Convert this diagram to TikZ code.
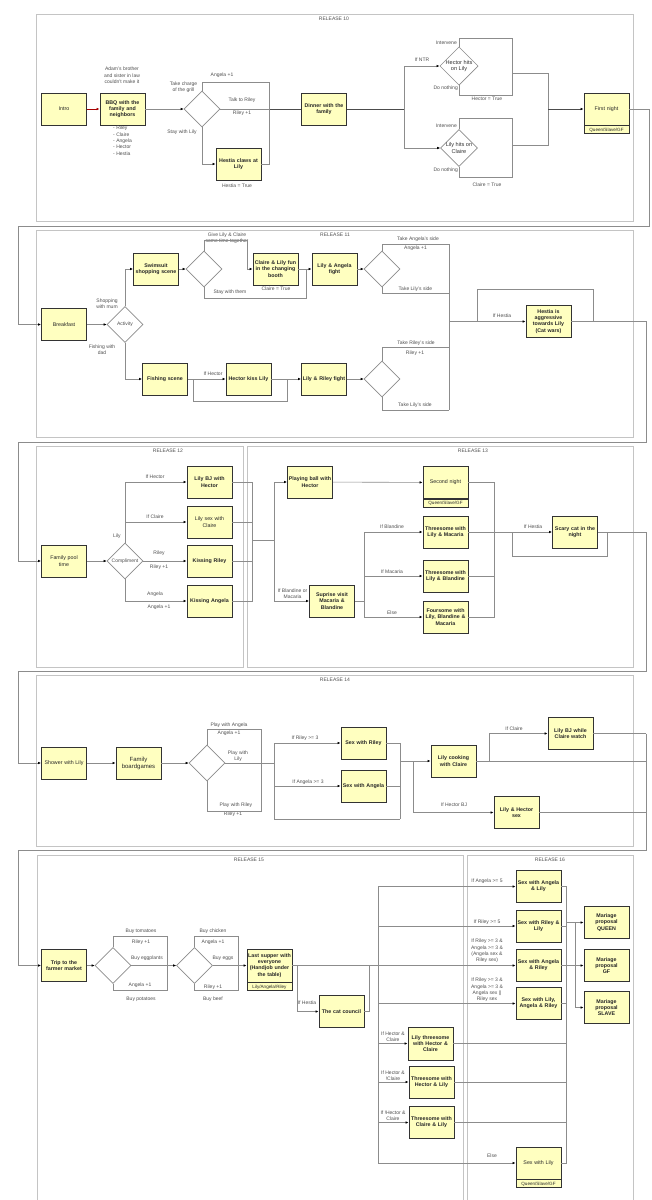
\documentclass[tikz,border=0pt]{standalone}
\usepackage{fontspec}
\setmainfont{Liberation Sans}
\usetikzlibrary{shapes.geometric,arrows.meta}
\definecolor{boxfill}{HTML}{FFFFC0}
\definecolor{lin}{HTML}{8C8C8C}
\definecolor{frm}{HTML}{C4C4C4}
\definecolor{lbl}{HTML}{505050}
\newcommand\bxf{\fontsize{5.3}{6.2}\selectfont}
\newcommand\lbf{\fontsize{5}{6.3}\selectfont}
\begin{document}
\begin{tikzpicture}[x=1pt,y=-1pt,
 box/.style={draw=black!80, line width=0.85pt, fill=boxfill, minimum width=45pt, minimum height=32pt, text width=44pt, align=center, inner sep=0.5pt, font=\bxf\bfseries, text=black!85},
 nbox/.style={box, font=\bxf},
 comp/.style={draw=black!80, line width=0.85pt, fill=boxfill, minimum width=45pt, minimum height=8pt, inner sep=0pt, anchor=north, font=\fontsize{4.6}{5}\selectfont, text=black!85},
 dia/.style={diamond, draw=lin, line width=0.6pt, minimum width=36pt, minimum height=36pt, inner sep=0pt, align=center, font=\lbf, text=lbl},
 bigdia/.style={dia, font=\fontsize{5.6}{6.4}\selectfont, text=black!80},
 ln/.style={draw=lin, line width=0.6pt},
 thk/.style={draw=black!70, line width=0.8pt},
 ar/.style={ln, -{Latex[length=3pt,width=2.6pt,color=black]}},
 thkar/.style={thk, -{Latex[length=3pt,width=2.6pt,color=black]}},
 redar/.style={draw=red!65!black, line width=0.8pt, -{Latex[length=3pt,width=2.6pt,color=red!65!black]}},
 lab/.style={text=lbl, font=\lbf, inner sep=0pt, align=center},
 frame/.style={draw=frm, line width=0.7pt},
 rel/.style={text=lbl, font=\lbf, inner sep=0pt}
]
\fill[white] (0,0) rectangle (651,1200);
\useasboundingbox (0,0) rectangle (651,1200);

% ================= RELEASE 10 =================
\draw[frame] (36,14) rectangle (633,221);
\node[rel] (r10) at (334,19) {RELEASE 10};
\node[nbox] (intro) at (64,109) {Intro};
\node[box] (bbq) at (122.5,109) {BBQ with the\\family and\\neighbors};
\node[lab] (bbqnote) at (122,75.5) {Adam's brother\\and sister in law\\couldn't make it};
\node[lab, align=left, anchor=north west] (bbqlist) at (113,126) {- Riley\\- Claire\\- Angela\\- Hector\\- Hestia};
\node[dia] (d1) at (202,109) {};
\node[box] (hc) at (238.5,164) {Hestia claws at\\Lily};
\node[box] (dinner) at (324,109) {Dinner with the\\family};
\node[bigdia] (dh) at (459,66) {Hector hits\\on Lily};
\node[bigdia] (dl) at (459,148) {Lily hits on\\Claire};
\node[nbox] (fn) at (606.5,109) {First night};
\node[comp] (fnq) at (fn.south) {Queen/Slave/GF};

\node[lab] (l101) at (183.5,87) {Take charge\\of the grill};
\node[lab] (l102) at (222,75) {Angela +1};
\node[lab] (l103) at (242,100) {Talk to Riley};
\node[lab] (l104) at (242,113) {Riley +1};
\node[lab] (l105) at (182,132) {Stay with Lily};
\node[lab] (l106) at (237,186) {Hestia = True};
\node[lab] (l107) at (422,60) {If NTR};
\node[lab, anchor=east] (l108) at (457,43) {Intervene};
\node[lab, anchor=east] (l109) at (458,88) {Do nothing};
\node[lab] (l110) at (487,99) {Hector = True};
\node[lab, anchor=east] (l111) at (457,126) {Intervene};
\node[lab, anchor=east] (l112) at (458,170) {Do nothing};
\node[lab] (l113) at (487,185) {Claire = True};

\draw[redar] (intro) -- (bbq);
\draw[ar] (bbq) -- (d1);
\coordinate (j1) at (269,109); \coordinate (j1t) at (269,82);
\draw[ln] (d1.north) |- (j1t) -- (j1);
\draw[ln] (d1.east) -- (j1);
\draw[thk] (j1) -- (dinner.west);
\draw[ar] (d1.south) |- (hc.west);
\draw[ln] (hc.east) -| (j1);
\coordinate (s1) at (404,109);
\draw[thk] (dinner) -- (s1);
\draw[ar] (s1) |- (dh.west);
\draw[ar] (s1) |- (dl.west);
\coordinate (dhA) at (512,38); \coordinate (dhB) at (512,95);
\draw[ln] (dh.north) |- (dhA) -- (dhB) -| (dh.south);
\coordinate (dlA) at (512,118); \coordinate (dlB) at (512,177);
\draw[ln] (dl.north) |- (dlA) -- (dlB) -| (dl.south);
\coordinate (m1) at (512,73); \coordinate (m2) at (548,73);
\coordinate (m3) at (548,145); \coordinate (m4) at (512,145);
\coordinate (m5) at (548,109);
\draw[ln] (m1) -- (m2) -- (m3) -- (m4);
\draw[thkar] (m5) -- (fn.west);

% ================= RELEASE 11 =================
\draw[frame] (36,230) rectangle (633,437);
\node[rel] (r11) at (335,235) {RELEASE 11};
\node[nbox] (bf) at (64,324.5) {Breakfast};
\node[dia] (act) at (125,324.5) {Activity};
\node[box] (swim) at (156,269) {Swimsuit\\shopping scene};
\node[box] (fish) at (165,379) {Fishing scene};
\node[dia] (d2) at (204,269) {};
\node[box] (cl) at (275.5,269) {Claire \& Lily fun\\in the changing\\booth};
\node[box] (la) at (334.5,269) {Lily \& Angela\\fight};
\node[dia] (d3) at (382,269) {};
\node[box] (hk) at (248.5,379) {Hector kiss Lily};
\node[box] (lr) at (324,379) {Lily \& Riley fight};
\node[dia] (d4) at (382,379) {};
\node[box] (hest) at (548.5,321.5) {Hestia is\\aggressive\\towards Lily\\(Cat wars)};

\node[lab] (l201) at (107,304) {Shopping\\with mum};
\node[lab] (l202) at (102,350) {Fishing with\\dad};
\node[lab] (l203) at (227,238) {Give Lily \& Claire\\some time together};
\node[lab] (l204) at (230,292.5) {Stay with them};
\node[lab] (l205) at (276,289) {Claire = True};
\node[lab] (l206) at (418,239) {Take Angela's side};
\node[lab] (l207) at (415.5,248.5) {Angela +1};
\node[lab] (l208) at (415.5,289) {Take Lily's side};
\node[lab] (l209) at (416,343.5) {Take Riley's side};
\node[lab] (l210) at (415,353) {Riley +1};
\node[lab] (l211) at (415,405.5) {Take Lily's side};
\node[lab] (l212) at (213,374) {If Hector};
\node[lab] (l213) at (502,316) {If Hestia};

\coordinate (t1a) at (649,109); \coordinate (t1b) at (649,226); \coordinate (t1c) at (18,226);
\draw[ar] (fn.east) -- (t1a) -- (t1b) -- (t1c) |- (bf.west);
\draw[ar] (bf) -- (act);
\draw[ar] (act.north) |- (swim.west);
\draw[ar] (act.south) |- (fish.west);
\draw[ar] (swim) -- (d2);
\coordinate (g1) at (247,240);
\draw[ar] (d2.north) |- (g1) |- (cl.west);
\coordinate (s2a) at (306,298); \coordinate (s2b) at (306,269);
\draw[ln] (d2.south) |- (s2a) -- (s2b);
\draw[ar] (cl) -- (la);
\draw[ar] (la) -- (d3);
\coordinate (a1) at (449,244); \coordinate (a2) at (449,293);
\coordinate (a3) at (449,347); \coordinate (a4) at (449,410);
\coordinate (hub) at (449,321.5);
\draw[ln] (d3.north) |- (a1) -- (a4);
\draw[ln] (d3.south) |- (a2);
\draw[ln] (d4.north) |- (a3);
\draw[ln] (d4.south) |- (a4);
\draw[ar] (fish) -- (hk);
\coordinate (f0) at (193,379); \coordinate (f2) at (287,401); \coordinate (f3) at (287,379);
\draw[ln] (f0) |- (f2) -- (f3);
\draw[ar] (hk) -- (lr);
\draw[ar] (lr) -- (d4);
\draw[ar] (hub) -- (hest.west);
\coordinate (h0) at (477,321.5); \coordinate (h1) at (477,289);
\coordinate (h2) at (593,289); \coordinate (h3) at (593,321.5);
\draw[ln] (h0) -- (h1) -- (h2) -- (h3);

% ================= RELEASE 12 / 13 =================
\draw[frame] (36,446) rectangle (243,667);
\draw[frame] (247,446) rectangle (633,667);
\node[rel] (r12) at (168,451) {RELEASE 12};
\node[rel] (r13) at (473,451) {RELEASE 13};
\node[nbox] (pool) at (64,561) {Family pool\\time};
\node[dia] (cmp) at (125,561) {Compliment};
\node[box] (lbj) at (209.5,482) {Lily BJ with\\Hector};
\node[nbox] (lsc) at (209.5,522) {Lily sex with\\Claire};
\node[box] (kr) at (209.5,561) {Kissing Riley};
\node[box] (ka) at (209.5,601) {Kissing Angela};
\node[box] (pb) at (310,482) {Playing ball with\\Hector};
\node[box] (sv) at (332,601) {Suprise visit\\Macaria \&\\Blandine};
\node[nbox] (sn) at (445.5,482.5) {Second night};
\node[comp] (snq) at (sn.south) {Queen/Slave/GF};
\node[box] (tm) at (445.5,532) {Threesome with\\Lily \& Macaria};
\node[box] (tb) at (445.5,576) {Threesome with\\Lily \& Blandine};
\node[box] (fs) at (445.5,617) {Foursome with\\Lily, Blandine \&\\Macaria};
\node[box] (sc) at (575,532) {Scary cat in the\\night};

\node[lab] (l301) at (155,477) {If Hector};
\node[lab] (l302) at (155,517) {If Claire};
\node[lab] (l303) at (117,536) {Lily};
\node[lab] (l304) at (159,553) {Riley};
\node[lab] (l305) at (159,567) {Riley +1};
\node[lab] (l306) at (155,594) {Angela};
\node[lab] (l307) at (159,607) {Angela +1};
\node[lab] (l308) at (292.5,594) {If Blandine or\\Macaria};
\node[lab] (l309) at (392,527) {If Blandine};
\node[lab] (l310) at (392,572) {If Macaria};
\node[lab] (l311) at (392,613) {Else};
\node[lab] (l312) at (533,527) {If Hestia};

\coordinate (t2a) at (646,321.5); \coordinate (t2b) at (646,442); \coordinate (t2c) at (18,442);
\draw[ar] (hest.east) -- (t2a) -- (t2b) -- (t2c) |- (pool.west);
\draw[ar] (pool) -- (cmp);
\draw[ar] (cmp.north) |- (lbj.west);
\coordinate (c1) at (125,522);
\draw[ar] (c1) -- (lsc.west);
\draw[ar] (cmp) -- (kr);
\draw[ar] (cmp.south) |- (ka.west);
\coordinate (r1) at (252,482); \coordinate (r2) at (252,522);
\coordinate (r3) at (252,561); \coordinate (r4) at (252,601);
\coordinate (r5) at (252,540); \coordinate (r6) at (274,540);
\draw[ln] (lbj) -- (r1) -- (r4) -- (ka);
\draw[ln] (lsc) -- (r2);
\draw[ln] (kr) -- (r3);
\draw[ln] (r5) -- (r6);
\draw[ar] (r6) |- (pb.west);
\draw[ar] (r6) |- (sv.west);
\draw[ar] (pb) -- (sn);
\coordinate (q0) at (364,601); \coordinate (q3) at (364,576);
\draw[ln] (sv) -- (q0);
\draw[ar] (q0) |- (tm.west);
\draw[ar] (q0) |- (fs.west);
\draw[ar] (q3) -- (tb.west);
\coordinate (w1) at (494,482.5); \coordinate (w2) at (494,532);
\coordinate (w3) at (494,576); \coordinate (w4) at (494,617);
\draw[ln] (sn.east) -- (w1) -- (w4) -- (fs.east);
\draw[ln] (tm) -- (w2);
\draw[ln] (tb) -- (w3);
\draw[ar] (w2) -- (sc.west);
\coordinate (b0) at (512,532); \coordinate (b1) at (512,556);
\coordinate (b2) at (607,556); \coordinate (b3) at (607,532);
\draw[ln] (b0) -- (b1) -- (b2) -- (b3);

% ================= RELEASE 14 =================
\draw[frame] (36,675) rectangle (633,846);
\node[rel] (r14) at (335,680) {RELEASE 14};
\node[nbox] (sh) at (64,763) {Shower with Lily};
\node[nbox, font=\fontsize{6}{7}\selectfont] (fb) at (138.5,763) {Family\\boardgames};
\node[dia] (d5) at (207,763) {};
\node[box] (sr) at (363.5,743) {Sex with Riley};
\node[box] (sa) at (363.5,786) {Sex with Angela};
\node[box] (lc) at (453.5,761) {Lily cooking\\with Claire};
\node[box] (lh) at (516.5,812.5) {Lily \& Hector\\sex};
\node[box] (lbw) at (570.5,733.5) {Lily BJ while\\Claire watch};

\node[lab] (l401) at (229,725) {Play with Angela};
\node[lab] (l402) at (229,733) {Angela +1};
\node[lab] (l403) at (238,756) {Play with\\Lily};
\node[lab] (l404) at (236,805) {Play with Riley};
\node[lab] (l405) at (233,814) {Riley +1};
\node[lab] (l406) at (305,738) {If Riley >= 3};
\node[lab] (l407) at (308,782) {If Angela >= 3};
\node[lab] (l408) at (454,805) {If Hector BJ};
\node[lab] (l409) at (514,729) {If Claire};

\coordinate (t3a) at (646,532); \coordinate (t3b) at (646,671); \coordinate (t3c) at (18,671);
\draw[ar] (sc.east) -- (t3a) -- (t3b) -- (t3c) |- (sh.west);
\draw[ar] (sh) -- (fb);
\draw[ar] (fb) -- (d5);
\coordinate (e1) at (261,729); \coordinate (e2) at (261,811);
\draw[ln] (d5.north) |- (e1) -- (e2) -| (d5.south);
\coordinate (k0) at (274,763); \coordinate (k1) at (274,743);
\coordinate (k2) at (274,819); \coordinate (k3) at (274,786);
\draw[ln] (d5.east) -- (k0);
\draw[ln] (k1) -- (k2);
\draw[ar] (k1) -- (sr.west);
\draw[ar] (k3) -- (sa.west);
\coordinate (z1) at (400,743); \coordinate (z2) at (400,786);
\coordinate (z3) at (400,819); \coordinate (z0) at (400,761);
\draw[ln] (k2) -- (z3);
\draw[ln] (sr) -- (z1) -- (z3);
\draw[ln] (sa) -- (z2);
\draw[ar] (z0) -- (lc.west);
\coordinate (y0) at (413,761);
\draw[ar] (y0) |- (lh.west);
\coordinate (x0) at (489,761);
\draw[ar] (x0) |- (lbw.west);
\coordinate (u1) at (646,733.5); \coordinate (u2) at (646,761);
\coordinate (u3) at (646,812.5); \coordinate (u4) at (646,850);
\coordinate (u5) at (18,850);
\draw[ln] (lbw) -- (u1);
\draw[ln] (lc) -- (u2);
\draw[ln] (lh) -- (u3);

% ================= RELEASE 15 / 16 =================
\draw[frame] (37,1201) -- (37,855) -- (463,855) -- (463,1201);
\draw[frame] (467,1201) -- (467,855) -- (633,855) -- (633,1201);
\node[rel] (r15) at (249,860) {RELEASE 15};
\node[rel] (r16) at (550,860) {RELEASE 16};
\node[box] (trip) at (64,965.5) {Trip to the\\farmer market};
\node[dia] (d6) at (113,965.5) {};
\node[dia] (d7) at (194.5,965.5) {};
\node[box, minimum height=33pt] (ls) at (269.5,965.5) {Last supper with\\everyone\\(Handjob under\\the table)};
\node[comp] (lsq) at (ls.south) {Lily/Angela/Riley};
\node[box] (cc) at (341.5,1011.5) {The cat council};
\node[box] (sal) at (538.5,886.5) {Sex with Angela\\\& Lily};
\node[box] (srl) at (538.5,926) {Sex with Riley \&\\Lily};
\node[box] (sar) at (538.5,965.5) {Sex with Angela\\\& Riley};
\node[box] (sla) at (538.5,1003.5) {Sex with Lily,\\Angela \& Riley};
\node[box, minimum height=33pt] (lt) at (430.5,1043.5) {Lily threesome\\with Hector \&\\Claire};
\node[box] (th) at (431.5,1082) {Threesome with\\Hector \& Lily};
\node[box] (tc) at (431.5,1122.5) {Threesome with\\Claire \& Lily};
\node[nbox] (sl) at (538.5,1163) {Sex with Lily};
\node[comp] (slq) at (sl.south) {Queen/Slave/GF};
\node[box] (mq) at (606.5,922.5) {Mariage\\proposal\\QUEEN};
\node[box] (mg) at (606.5,965.5) {Mariage\\proposal\\GF};
\node[box] (ms) at (606.5,1007.5) {Mariage\\proposal\\SLAVE};

\node[lab] (l501) at (141,931) {Buy tomatoes};
\node[lab] (l502) at (141,942) {Riley +1};
\node[lab] (l503) at (147,958) {Buy eggplants};
\node[lab] (l504) at (140,985) {Angela +1};
\node[lab] (l505) at (141,999) {Buy potatoes};
\node[lab] (l506) at (213,931) {Buy chicken};
\node[lab] (l507) at (213,942) {Angela +1};
\node[lab] (l508) at (223,958) {Buy eggs};
\node[lab] (l509) at (213,987) {Riley +1};
\node[lab] (l510) at (213,999) {Buy beef};
\node[lab] (l511) at (307,1003) {If Hestia};
\node[lab] (l512) at (487,881) {If Angela >= 5};
\node[lab] (l513) at (487,922) {If Riley >= 5};
\node[lab] (l514) at (487,951) {If Riley >= 3 \&\\Angela >= 3 \&\\(Angela sex \&\\Riley sex)};
\node[lab] (l515) at (487,990) {If Riley >= 3 \&\\Angela >= 3 \&\\Angela sex ||\\Riley sex};
\node[lab] (l516) at (393,1037) {If Hector \&\\Claire};
\node[lab] (l517) at (393,1075.5) {If Hector \&\\!Claire};
\node[lab] (l518) at (393,1116) {If !Hector \&\\Claire};
\node[lab] (l519) at (492,1156) {Else};

\draw[ar] (u1) -- (u4) -- (u5) |- (trip.west);
\draw[ar] (trip) -- (d6);
\draw[ar] (d6) -- (d7);
\draw[ar] (d7) -- (ls);
\coordinate (v1) at (167,936); \coordinate (v2) at (167,990);
\draw[ln] (d6.north) |- (v1) -- (v2) -| (d6.south);
\coordinate (v3) at (238,936); \coordinate (v4) at (238,990);
\draw[ln] (d7.north) |- (v3) -- (v4) -| (d7.south);
\coordinate (o0) at (297,965.5);
\draw[ar] (o0) |- (cc.west);
\coordinate (o2) at (369,1011.5); \coordinate (o3) at (369,965.5);
\draw[ln] (cc) -- (o2) -- (o3);
\draw[ar] (ls.east) -- (sar.west);
\coordinate (n1) at (378,886.5); \coordinate (n2) at (378,926);
\coordinate (n3) at (378,1003.5); \coordinate (n4) at (378,1043.5);
\coordinate (n5) at (378,1082); \coordinate (n6) at (378,1122.5);
\coordinate (n7) at (378,1163);
\draw[ln] (n1) -- (n7);
\draw[ar] (n1) -- (sal.west);
\draw[ar] (n2) -- (srl.west);
\draw[ar] (n3) -- (sla.west);
\draw[ar] (n4) -- (lt.west);
\draw[ar] (n5) -- (th.west);
\draw[ar] (n6) -- (tc.west);
\draw[ar] (n7) -- (sl.west);
\coordinate (p1) at (566,886.5); \coordinate (p2) at (566,926);
\coordinate (p3) at (566,965.5); \coordinate (p4) at (566,1003.5);
\coordinate (p5) at (566,1043.5); \coordinate (p6) at (566,1082);
\coordinate (p7) at (566,1122.5); \coordinate (p8) at (566,1163);
\coordinate (p9) at (566,922.5); \coordinate (pq) at (575,922.5);
\coordinate (pg) at (575,965.5); \coordinate (ps) at (575,1007.5);
\draw[ln] (sal) -- (p1) -- (p8) -- (sl);
\draw[ln] (srl) -- (p2);
\draw[ln] (sla) -- (p4);
\draw[ln] (lt) -- (p5);
\draw[ln] (th) -- (p6);
\draw[ln] (tc) -- (p7);
\draw[ar] (sar) -- (mg);
\draw[ln] (p9) -- (pq) -- (ps);
\draw[ar] (pq) -- (mq.west);
\draw[ar] (ps) -- (ms.west);
\end{tikzpicture}
\end{document}
